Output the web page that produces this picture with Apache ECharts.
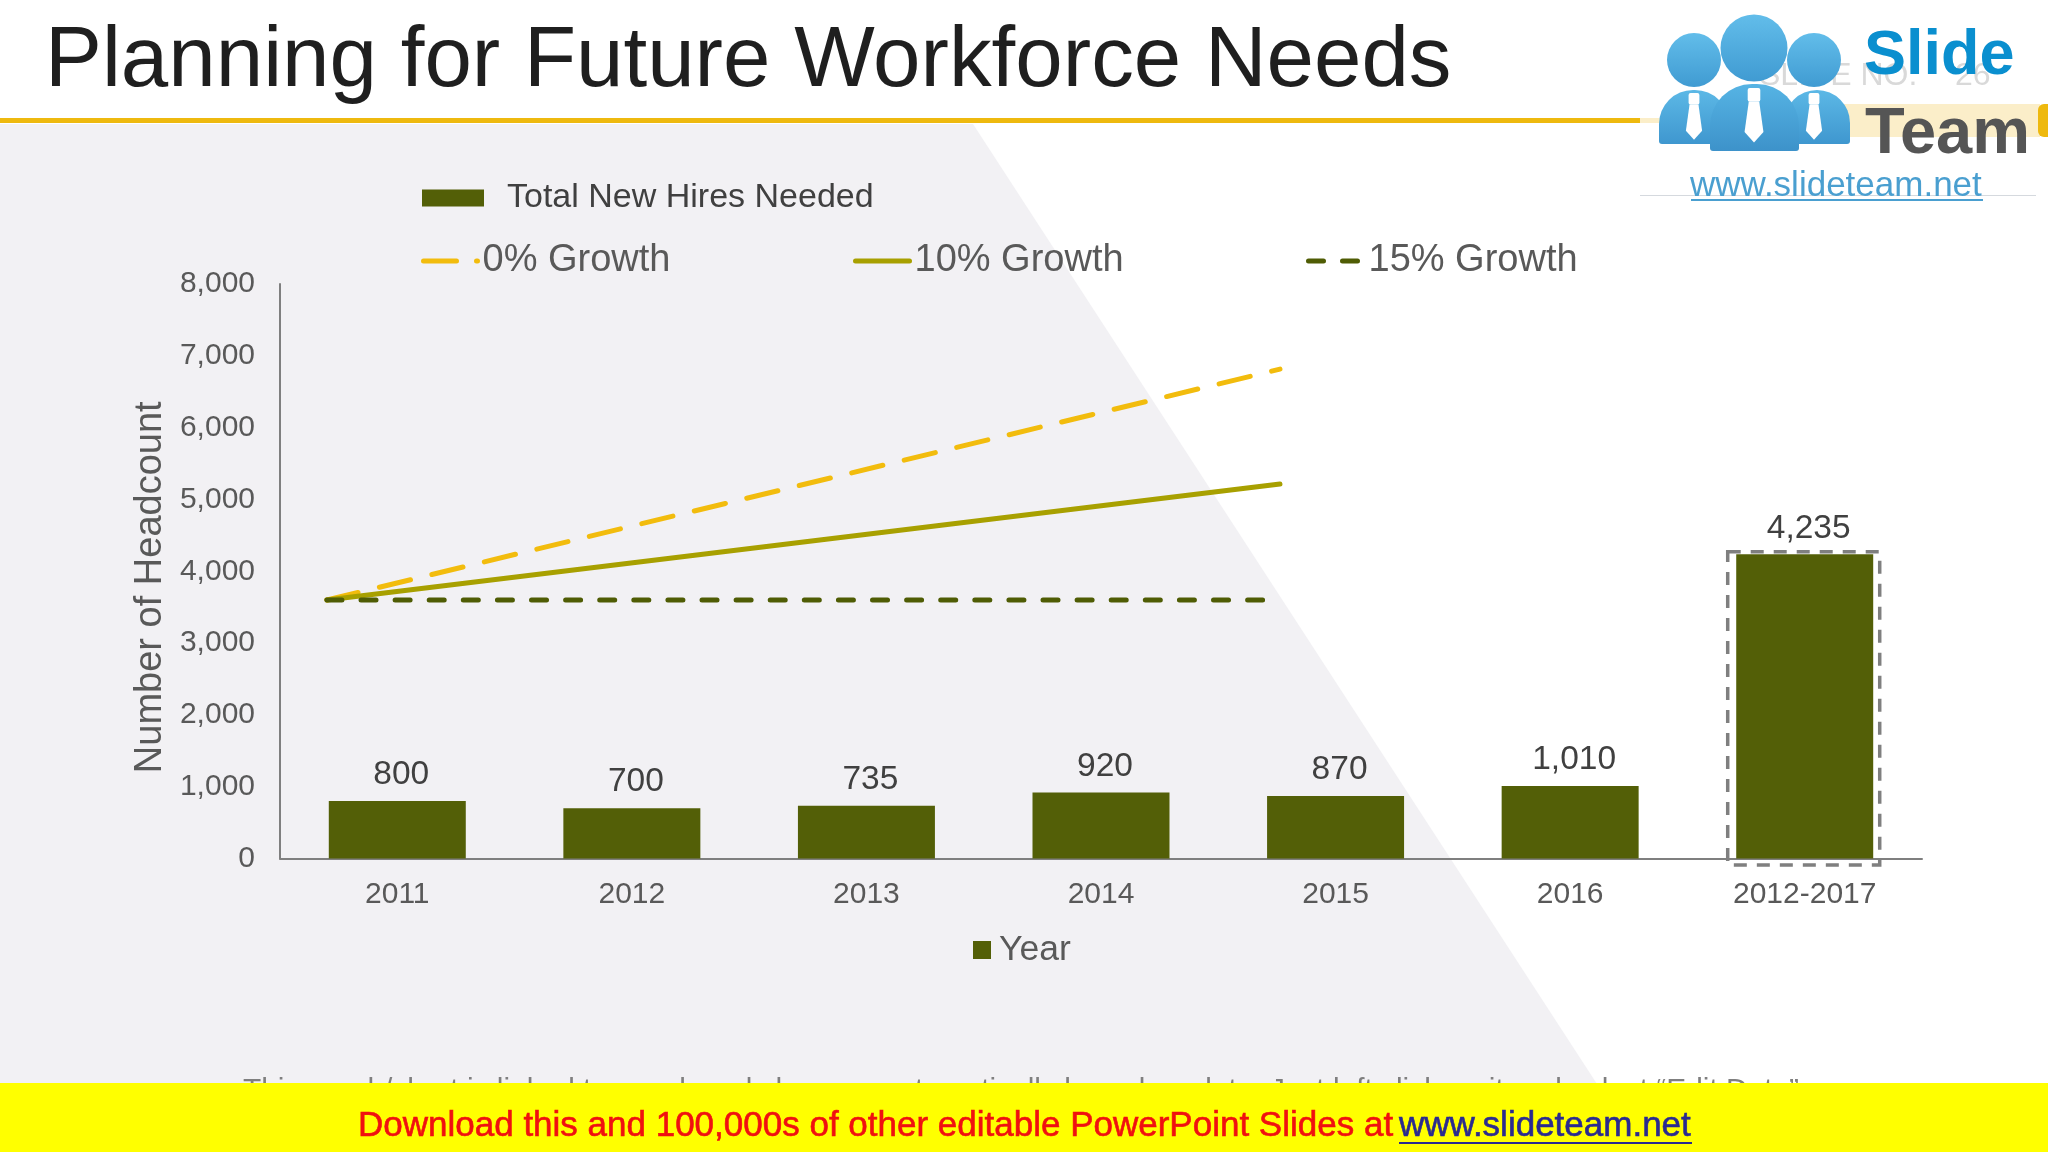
<!DOCTYPE html>
<html>
<head>
<meta charset="utf-8">
<title>Planning for Future Workforce Needs</title>
<script src="https://cdn.jsdelivr.net/npm/echarts@6/dist/echarts.min.js"></script>
<style>
  html, body { margin: 0; padding: 0; background: #fff; }
  #chart { width: 2048px; height: 1152px; }
</style>
</head>
<body>
<div id="chart"></div>
<script>
const FONT = '"Liberation Sans", Arial, sans-serif'
const categories = ['2011', '2012', '2013', '2014', '2015', '2016', '2012-2017']
const hires = [800, 700, 735, 920, 870, 1010, 4235]
const yTicks = { min: 0, max: 8000, interval: 1000 }

// the growth lines run on their own hidden axis, in category widths
const lineX = [0.2, 4.263]
const growth0 = [3600, 6815]
const growth10 = [3600, 5215]
const growth15 = [3600, 3600]

// dashed frame around the last bar: category index, low, high
const frameBox = [6, -90, 4270]

const OLIVE = '#535f07'
const GOLD = '#f2bc0d'
const MOSS = '#a8a000'
const DARK = '#4f5c04'
const TEXT = '#595959'

const chart = echarts.init(document.getElementById('chart'), null, { renderer: 'canvas' })

const legendItem = function (name, left, top, width, height, extra) {
  return Object.assign({
    data: [name],
    left: left,
    top: top,
    padding: 0,
    itemWidth: width,
    itemHeight: height,
    textStyle: { fontFamily: FONT, fontSize: 38, color: TEXT },
    selectedMode: false,
  }, extra)
}

const pair = function (xs, ys) {
  return xs.map((x, i) => [x, ys[i]])
}

const tie = function (cx, top, scale) {
  return [
    { type: 'rect', z: 6, shape: { x: cx - 6 * scale, y: top, width: 12 * scale, height: 13 * scale, r: 2 }, style: { fill: '#fff' } },
    {
      type: 'polygon', z: 6,
      shape: { points: [[cx - 5 * scale, top + 13 * scale], [cx + 5 * scale, top + 13 * scale], [cx + 9 * scale, top + 42 * scale], [cx, top + 52 * scale], [cx - 9 * scale, top + 42 * scale]] },
      style: { fill: '#fff' },
    },
  ]
}

const blue = function (a, b) {
  return new echarts.graphic.LinearGradient(0, 0, 0, 1, [{ offset: 0, color: a }, { offset: 1, color: b }])
}

const decorations = [
  // slide background
  { type: 'polygon', z: -5, shape: { points: [[0, 124], [973, 124], [1597, 1084], [0, 1084]] }, style: { fill: '#f2f1f4' } },
  { type: 'rect', z: -4, shape: { x: 0, y: 118, width: 1640, height: 5 }, style: { fill: '#eeb90f' } },
  { type: 'rect', z: -3, shape: { x: 1640, y: 0, width: 408, height: 198 }, style: { fill: '#fff' } },
  { type: 'rect', z: -2, shape: { x: 1640, y: 118, width: 30, height: 5 }, style: { fill: '#fbeec9' } },
  { type: 'rect', z: -2, shape: { x: 1840, y: 104, width: 200, height: 33 }, style: { fill: '#fbeec9' } },
  { type: 'rect', z: -2, shape: { x: 2038, y: 104, width: 10, height: 33, r: [6, 0, 0, 6] }, style: { fill: '#eeb90f' } },
  { type: 'text', z: -1, x: 1759, y: 76, style: { text: 'SLIDE NO.', font: '32px ' + FONT, fill: '#d9d9d9', verticalAlign: 'middle' } },
  { type: 'text', z: -1, x: 1955, y: 76, style: { text: '26', font: '32px ' + FONT, fill: '#d9d9d9', verticalAlign: 'middle' } },
  // logo
  { type: 'rect', z: 4, shape: { x: 1659, y: 90, width: 70, height: 54, r: [34, 34, 3, 3] }, style: { fill: blue('#5cb8e6', '#3f97cf') } },
  { type: 'rect', z: 4, shape: { x: 1784, y: 90, width: 66, height: 54, r: [34, 34, 3, 3] }, style: { fill: blue('#5cb8e6', '#3f97cf') } },
  { type: 'rect', z: 5, shape: { x: 1710, y: 84, width: 89, height: 67, r: [42, 42, 3, 3] }, style: { fill: blue('#56b4e4', '#3d92ca') } },
  { type: 'circle', z: 4, shape: { cx: 1694, cy: 60, r: 27 }, style: { fill: blue('#62bdea', '#409bd2') } },
  { type: 'circle', z: 4, shape: { cx: 1814, cy: 60, r: 27 }, style: { fill: blue('#62bdea', '#409bd2') } },
  { type: 'circle', z: 5, shape: { cx: 1754, cy: 48, r: 33.5 }, style: { fill: blue('#62bdea', '#409bd2') } },
  ...tie(1694, 93, 0.9),
  ...tie(1814, 93, 0.9),
  ...tie(1754, 88, 1.05),
  { type: 'text', z: 6, x: 1864, y: 57, style: { text: 'Slide', font: 'bold 63px ' + FONT, fill: '#0a8fcf', verticalAlign: 'middle' } },
  { type: 'text', z: 6, x: 1865, y: 135, style: { text: 'Team', font: 'bold 65px ' + FONT, fill: '#555555', verticalAlign: 'middle' } },
  { type: 'text', z: 6, x: 1690, y: 186, style: { text: 'www.slideteam.net', font: '35px ' + FONT, fill: '#4a9fd0', verticalAlign: 'middle' } },
  { type: 'rect', z: 5, shape: { x: 1640, y: 195, width: 396, height: 1 }, style: { fill: '#d5d9de' } },
  { type: 'rect', z: 6, shape: { x: 1691, y: 199, width: 292, height: 2 }, style: { fill: '#4a9fd0' } },
  // footer
  { type: 'text', z: 10, x: 243, y: 1091, style: { text: 'This graph/chart is linked to excel, and changes automatically based on data. Just left click on it and select \u201cEdit Data\u201d.', font: '29.85px ' + FONT, fill: '#7f7f7f', verticalAlign: 'middle' } },
  { type: 'rect', z: 20, shape: { x: 0, y: 1083, width: 2048, height: 69 }, style: { fill: '#ffff00' } },
  { type: 'text', z: 21, x: 358, y: 1126, style: { text: 'Download this and 100,000s of other editable PowerPoint Slides at', font: '35px ' + FONT, fill: '#f01010', stroke: '#f01010', lineWidth: 0.6, verticalAlign: 'middle' } },
  { type: 'text', z: 21, x: 1399, y: 1126, style: { text: 'www.slideteam.net', font: '35px ' + FONT, fill: '#2a2a90', stroke: '#2a2a90', lineWidth: 0.6, verticalAlign: 'middle' } },
  { type: 'rect', z: 21, shape: { x: 1399, y: 1142, width: 293, height: 2 }, style: { fill: '#2a2a90' } },
]

chart.setOption({
  animation: false,
  backgroundColor: '#ffffff',
  title: {
    text: 'Planning for Future Workforce Needs',
    left: 45,
    top: 20,
    padding: 0,
    textStyle: { fontFamily: FONT, fontSize: 85.3, fontWeight: 'normal', color: '#1f1f1f' },
  },
  graphic: { elements: decorations },
  legend: [
    legendItem('Total New Hires Needed', 422, 181, 62, 17, { icon: 'rect', textStyle: { fontFamily: FONT, fontSize: 34, color: '#404040', padding: [0, 0, 0, 18] } }),
    legendItem('0% Growth', 421, 242, 54, 5, { itemStyle: { opacity: 0 }, lineStyle: { type: [33, 20, 1, 100], cap: 'round', width: 5 } }),
    legendItem('10% Growth', 853, 242, 54, 5, { itemStyle: { opacity: 0 }, lineStyle: { cap: 'round', width: 5 } }),
    legendItem('15% Growth', 1306, 242, 55, 5, { itemStyle: { opacity: 0 }, lineStyle: { type: [15, 19], cap: 'round', width: 5 } }),
    legendItem('Year', 973, 932, 18, 18, { icon: 'rect', textStyle: { fontFamily: FONT, fontSize: 35.5, color: TEXT, padding: [0, 0, 0, 3] } }),
  ],
  grid: { left: 280, right: 126, top: 284, bottom: 293.5, containLabel: false },
  xAxis: [
    {
      type: 'category',
      data: categories,
      axisLine: { lineStyle: { color: '#7f7f7f', width: 2 } },
      axisTick: { show: false },
      axisLabel: { color: TEXT, fontFamily: FONT, fontSize: 30, margin: 21, interval: 0 },
    },
    { type: 'value', min: 0, max: 7, show: false },
  ],
  yAxis: {
    type: 'value',
    min: yTicks.min,
    max: yTicks.max,
    interval: yTicks.interval,
    name: 'Number of Headcount',
    nameLocation: 'middle',
    nameGap: 106,
    nameTextStyle: { color: TEXT, fontFamily: FONT, fontSize: 38, padding: [0, 32, 0, 0] },
    axisLine: { show: true, lineStyle: { color: '#7f7f7f', width: 2 } },
    axisTick: { show: false },
    splitLine: { show: false },
    axisLabel: {
      color: TEXT, fontFamily: FONT, fontSize: 30, margin: 25, padding: [6, 0, 0, 0],
      formatter: (v) => v.toLocaleString('en-US'),
    },
  },
  series: [
    {
      name: 'Total New Hires Needed',
      type: 'bar',
      data: hires,
      barWidth: '58.4%',
      itemStyle: { color: OLIVE },
      label: {
        show: true,
        position: 'top',
        distance: 9,
        offset: [4, 0],
        color: '#404040',
        fontFamily: FONT,
        fontSize: 33.5,
        formatter: (p) => p.value.toLocaleString('en-US'),
      },
    },
    {
      name: 'frame',
      type: 'custom',
      data: [frameBox],
      z: 3,
      renderItem: function (params, api) {
        const top = api.coord([api.value(0), api.value(2)])
        const bottom = api.coord([api.value(0), api.value(1)])
        const w = api.size([1, 0])[0] * 0.648
        return {
          type: 'rect',
          shape: { x: top[0] - w / 2 - 1, y: top[1], width: w, height: bottom[1] - top[1] },
          style: { fill: 'none', stroke: '#7f7f7f', lineWidth: 3.5, lineDash: [13, 10] },
        }
      },
    },
    {
      name: '0% Growth',
      type: 'line',
      xAxisIndex: 1,
      data: pair(lineX, growth0),
      symbol: 'none',
      lineStyle: { color: GOLD, width: 5, type: [32, 22], cap: 'round' },
      itemStyle: { color: GOLD },
    },
    {
      name: '10% Growth',
      type: 'line',
      xAxisIndex: 1,
      data: pair(lineX, growth10),
      symbol: 'none',
      lineStyle: { color: MOSS, width: 5, cap: 'round' },
      itemStyle: { color: MOSS },
    },
    {
      name: '15% Growth',
      type: 'line',
      xAxisIndex: 1,
      data: pair(lineX, growth15),
      symbol: 'none',
      lineStyle: { color: DARK, width: 5, type: [15, 19.1], cap: 'round' },
      itemStyle: { color: DARK },
    },
    { name: 'Year', type: 'scatter', data: [], itemStyle: { color: OLIVE, opacity: 1 } },
  ],
})
</script>
</body>
</html>
